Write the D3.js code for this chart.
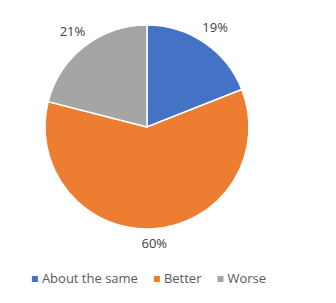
<!DOCTYPE html>
<html>
<head>
<meta charset="utf-8">
<script src="https://cdn.jsdelivr.net/npm/d3@7"></script>
<style>
  body { margin: 0; background: #fff; }
  svg { display: block; }
</style>
</head>
<body>
<script>
// data
const categories = ["About the same", "Better", "Worse"];
const values = [19, 60, 21];
const colors = ["#4472C4", "#ED7D31", "#A5A5A5"];

const width = 336;
const height = 303;
const cx = 147, cy = 127, radius = 102;

const svg = d3.select("body").append("svg")
    .attr("width", width)
    .attr("height", height);

const pie = d3.pie().sort(null).value(d => d.value);
const arcs = pie(categories.map((c, i) => ({ name: c, value: values[i], color: colors[i] })));

const arc = d3.arc().innerRadius(0).outerRadius(radius);

const g = svg.append("g").attr("transform", `translate(${cx},${cy})`);

// slices
g.selectAll("path")
    .data(arcs)
    .enter().append("path")
    .attr("d", arc)
    .attr("fill", d => d.data.color)
    .attr("stroke", "#fff")
    .attr("stroke-width", 1.5);

// outside-end labels, box pushed out along the mid angle
const labelFont = "13px 'Open Sans', sans-serif";
g.selectAll(".lbl")
    .data(arcs)
    .enter().append("text")
    .attr("class", "lbl")
    .style("font", labelFont)
    .style("fill", "#404040")
    .attr("text-anchor", "middle")
    .attr("dominant-baseline", "central")
    .text(d => d.data.value + "%")
    .each(function(d) {
        const a = (d.startAngle + d.endAngle) / 2;
        const ux = Math.sin(a), uy = -Math.cos(a);
        const w = this.getComputedTextLength(), h = 12;
        const k = radius + 7 + Math.abs(ux) * w / 2 + Math.abs(uy) * h / 2;
        d3.select(this).attr("x", ux * k).attr("y", uy * k);
    });

// legend
const legend = svg.append("g");
let x = 0;
categories.forEach((c, i) => {
    const item = legend.append("g").attr("transform", `translate(${x},0)`);
    item.append("rect")
        .attr("x", 0).attr("y", -6)
        .attr("width", 6).attr("height", 6)
        .attr("fill", colors[i]);
    const t = item.append("text")
        .attr("x", 10).attr("y", 0)
        .style("font", "13px 'Open Sans', sans-serif")
        .style("fill", "#595959")
        .attr("dy", "0.1em")
        .text(c);
    x += 10 + t.node().getComputedTextLength() + 16;
});
const legendW = x - 16;
legend.attr("transform", `translate(${149 - legendW / 2},282)`);
</script>
</body>
</html>
